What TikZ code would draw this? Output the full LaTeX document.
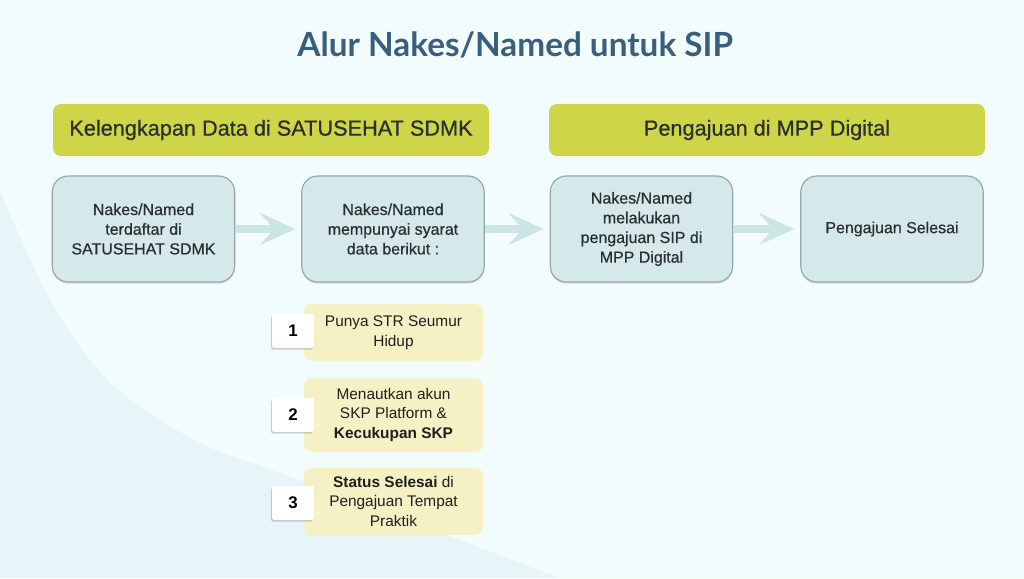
\documentclass[tikz,border=0pt]{standalone}
\usepackage{fontspec}
\setmainfont{Liberation Sans}
\newfontfamily\titlefont{Lato}
\newfontfamily\medfont[BoldFont = {Liberation Sans}, BoldFeatures = {FakeBold = 0.6}]{Liberation Sans}
\usepackage{tikz}
\usetikzlibrary{arrows.meta, shadows, positioning}
\usepackage{xcolor}
\definecolor{titleblue}{HTML}{3A5E7E}
\definecolor{baryellow}{HTML}{CFD548}
\definecolor{boxfill}{HTML}{D5E8EA}
\definecolor{boxline}{HTML}{93A7AA}
\definecolor{arrowteal}{HTML}{CBE5E5}
\definecolor{itemyellow}{HTML}{F5F1C4}
\definecolor{bgtop}{HTML}{F2FCFC}
\definecolor{bglow}{HTML}{E5F5F8}
\definecolor{darktext}{HTML}{2A2F2F}

\begin{document}
\begin{tikzpicture}[
	bar/.style = {fill = baryellow, rounded corners = 0.25cm, minimum width = 13.625cm, minimum height = 1.625cm, text = darktext, font = \medfont\bfseries\fontsize{19.3}{22}\selectfont},
	stepbox/.style = {draw = boxline, line width = 1pt, fill = boxfill, rounded corners = 0.5cm, minimum width = 5.7cm, minimum height = 3.3125cm, align = center, text = darktext, font = \medfont\bfseries\fontsize{14.2}{17.5}\selectfont, drop shadow = {shadow xshift = 0pt, shadow yshift = -1.5pt, opacity = 0.25, fill = gray}},
	itembox/.style = {fill = itemyellow, rounded corners = 0.25cm, minimum width = 5.594cm, align = center, text = black!88, font = \fontsize{13.7}{17.5}\selectfont},
	numbox/.style = {fill = white, rounded corners = 1.5pt, minimum width = 1.31cm, minimum height = 1.06cm, font = \bfseries\fontsize{15}{17}\selectfont, drop shadow = {shadow xshift = -1pt, shadow yshift = -1.5pt, opacity = 0.35, fill = gray}},
	flow/.style = {draw = arrowteal, line width = 0.25cm, -{Stealth[length = 1.1cm, width = 1cm, inset = 0.45cm]}, shorten > = 0.19cm}
	]
		% background
		\useasboundingbox (0,0) rectangle (32,18.0625);
		\fill[bgtop] (0,0) rectangle (32,18.0625);
		\fill[bglow] plot[smooth] coordinates {(0,12.1) (1.56,8.69) (3.44,6.09) (6.25,4.22) (9.375,3.06) (17.5,0)} -- (0,0) -- cycle;
		
		\draw (16.1,16.66) node[text = titleblue, font = \titlefont\bfseries\fontsize{29.6}{34}\selectfont] (title) {Alur Nakes/Named untuk SIP}
		(8.469,14.0) node[bar] (satu) {Kelengkapan Data di SATUSEHAT SDMK}
		(23.969,14.0) node[bar] (mpp) {Pengajuan di MPP Digital};
		
		\draw (4.484,10.906) node[stepbox] (s1) {Nakes/Named\\ terdaftar di\\ SATUSEHAT SDMK}
		(12.281,10.906) node[stepbox] (s2) {Nakes/Named\\ mempunyai syarat\\ data berikut :}
		(20.047,10.906) node[stepbox] (s3) {Nakes/Named\\ melakukan\\ pengajuan SIP di\\ MPP Digital}
		(27.875,10.906) node[stepbox] (s4) {Pengajuan Selesai};
		
		\draw[flow] (s1) -- (s2);
		\draw[flow] (s2) -- (s3);
		\draw[flow] (s3) -- (s4);
		
		% syarat data
		\draw (12.297,7.672) node[itembox, minimum height = 1.78cm] (i1) {Punya STR Seumur\\ Hidup}
		(12.297,5.094) node[itembox, minimum height = 2.31cm] (i2) {Menautkan akun\\ SKP Platform \&\\ \textbf{Kecukupan SKP}}
		(12.297,2.391) node[itembox, minimum height = 2.09cm] (i3) {\textbf{Status Selesai} di\\ Pengajuan Tempat\\ Praktik};
		
		\draw (9.156,7.719) node[numbox] (n1) {1}
		(9.156,5.094) node[numbox] (n2) {2}
		(9.156,2.344) node[numbox] (n3) {3};
	\end{tikzpicture}
\end{document}
